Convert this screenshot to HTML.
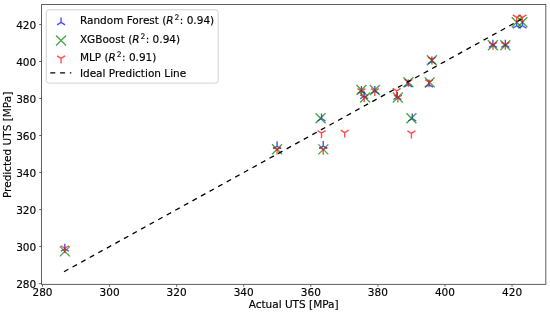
<!DOCTYPE html>
<html><head><meta charset="utf-8"><style>
html,body{margin:0;padding:0;background:#fff;width:550px;height:312px;overflow:hidden}
svg{display:block;filter:blur(0.3px)}
text{stroke:#000;stroke-width:0.15px}
</style></head><body>
<svg width="550" height="312" viewBox="0 0 550 312">
<rect width="550" height="312" fill="#fff"/>
<defs><clipPath id="c"><rect x="41.5" y="4.5" width="504.29999999999995" height="279.9"/></clipPath></defs>
<g clip-path="url(#c)">
<path d="M64.82 248.78V243.78M64.82 248.78L60.82 251.28M64.82 248.78L68.82 251.28" fill="none" stroke="#0000ff" stroke-opacity="0.7" stroke-width="1.4"/>
<path d="M277.06 146.24V141.24M277.06 146.24L273.06 148.74M277.06 146.24L281.06 148.74" fill="none" stroke="#0000ff" stroke-opacity="0.7" stroke-width="1.4"/>
<path d="M321.53 118.47V113.47M321.53 118.47L317.53 120.97M321.53 118.47L325.53 120.97" fill="none" stroke="#0000ff" stroke-opacity="0.7" stroke-width="1.4"/>
<path d="M323.21 146.05V141.05M323.21 146.05L319.21 148.55M323.21 146.05L327.21 148.55" fill="none" stroke="#0000ff" stroke-opacity="0.7" stroke-width="1.4"/>
<path d="M361.45 91.08V86.08M361.45 91.08L357.45 93.58M361.45 91.08L365.45 93.58" fill="none" stroke="#0000ff" stroke-opacity="0.7" stroke-width="1.4"/>
<path d="M364.13 96.26V91.26M364.13 96.26L360.13 98.76M364.13 96.26L368.13 98.76" fill="none" stroke="#0000ff" stroke-opacity="0.7" stroke-width="1.4"/>
<path d="M374.86 91.08V86.08M374.86 91.08L370.86 93.58M374.86 91.08L378.86 93.58" fill="none" stroke="#0000ff" stroke-opacity="0.7" stroke-width="1.4"/>
<path d="M397.33 97.00V92.00M397.33 97.00L393.33 99.50M397.33 97.00L401.33 99.50" fill="none" stroke="#0000ff" stroke-opacity="0.7" stroke-width="1.4"/>
<path d="M408.23 84.41V79.41M408.23 84.41L404.23 86.91M408.23 84.41L412.23 86.91" fill="none" stroke="#0000ff" stroke-opacity="0.7" stroke-width="1.4"/>
<path d="M412.26 118.47V113.47M412.26 118.47L408.26 120.97M412.26 118.47L416.26 120.97" fill="none" stroke="#0000ff" stroke-opacity="0.7" stroke-width="1.4"/>
<path d="M429.03 84.60V79.60M429.03 84.60L425.03 87.10M429.03 84.60L433.03 87.10" fill="none" stroke="#0000ff" stroke-opacity="0.7" stroke-width="1.4"/>
<path d="M431.88 61.46V56.46M431.88 61.46L427.88 63.96M431.88 61.46L435.88 63.96" fill="none" stroke="#0000ff" stroke-opacity="0.7" stroke-width="1.4"/>
<path d="M492.92 44.80V39.80M492.92 44.80L488.92 47.30M492.92 44.80L496.92 47.30" fill="none" stroke="#0000ff" stroke-opacity="0.7" stroke-width="1.4"/>
<path d="M505.33 44.80V39.80M505.33 44.80L501.33 47.30M505.33 44.80L509.33 47.30" fill="none" stroke="#0000ff" stroke-opacity="0.7" stroke-width="1.4"/>
<path d="M516.74 25.74V20.74M516.74 25.74L512.74 28.24M516.74 25.74L520.74 28.24" fill="none" stroke="#0000ff" stroke-opacity="0.7" stroke-width="1.4"/>
<path d="M522.44 25.74V20.74M522.44 25.74L518.44 28.24M522.44 25.74L526.44 28.24" fill="none" stroke="#0000ff" stroke-opacity="0.7" stroke-width="1.4"/>
<path d="M59.82 246.37L69.82 256.37M59.82 256.37L69.82 246.37" fill="none" stroke="#008000" stroke-opacity="0.7" stroke-width="1.4"/>
<path d="M272.06 144.20L282.06 154.20M272.06 154.20L282.06 144.20" fill="none" stroke="#008000" stroke-opacity="0.7" stroke-width="1.4"/>
<path d="M315.53 113.29L325.53 123.29M315.53 123.29L325.53 113.29" fill="none" stroke="#008000" stroke-opacity="0.7" stroke-width="1.4"/>
<path d="M318.38 144.38L328.38 154.38M318.38 154.38L328.38 144.38" fill="none" stroke="#008000" stroke-opacity="0.7" stroke-width="1.4"/>
<path d="M356.45 84.97L366.45 94.97M356.45 94.97L366.45 84.97" fill="none" stroke="#008000" stroke-opacity="0.7" stroke-width="1.4"/>
<path d="M360.13 92.55L370.13 102.55M360.13 102.55L370.13 92.55" fill="none" stroke="#008000" stroke-opacity="0.7" stroke-width="1.4"/>
<path d="M369.86 84.97L379.86 94.97M369.86 94.97L379.86 84.97" fill="none" stroke="#008000" stroke-opacity="0.7" stroke-width="1.4"/>
<path d="M392.84 92.55L402.84 102.55M392.84 102.55L402.84 92.55" fill="none" stroke="#008000" stroke-opacity="0.7" stroke-width="1.4"/>
<path d="M403.40 77.19L413.40 87.19M403.40 87.19L413.40 77.19" fill="none" stroke="#008000" stroke-opacity="0.7" stroke-width="1.4"/>
<path d="M406.42 113.29L416.42 123.29M406.42 123.29L416.42 113.29" fill="none" stroke="#008000" stroke-opacity="0.7" stroke-width="1.4"/>
<path d="M424.70 77.38L434.70 87.38M424.70 87.38L434.70 77.38" fill="none" stroke="#008000" stroke-opacity="0.7" stroke-width="1.4"/>
<path d="M426.88 55.16L436.88 65.16M426.88 65.16L436.88 55.16" fill="none" stroke="#008000" stroke-opacity="0.7" stroke-width="1.4"/>
<path d="M487.92 40.36L497.92 50.36M487.92 50.36L497.92 40.36" fill="none" stroke="#008000" stroke-opacity="0.7" stroke-width="1.4"/>
<path d="M500.33 40.36L510.33 50.36M500.33 50.36L510.33 40.36" fill="none" stroke="#008000" stroke-opacity="0.7" stroke-width="1.4"/>
<path d="M511.74 17.22L521.74 27.22M511.74 27.22L521.74 17.22" fill="none" stroke="#008000" stroke-opacity="0.7" stroke-width="1.4"/>
<path d="M517.44 17.22L527.44 27.22M517.44 27.22L527.44 17.22" fill="none" stroke="#008000" stroke-opacity="0.7" stroke-width="1.4"/>
<path d="M64.82 248.23V253.23M64.82 248.23L60.82 245.73M64.82 248.23L68.82 245.73" fill="none" stroke="#ff0000" stroke-opacity="0.7" stroke-width="1.4"/>
<path d="M277.06 149.57V154.57M277.06 149.57L273.06 147.07M277.06 149.57L281.06 147.07" fill="none" stroke="#ff0000" stroke-opacity="0.7" stroke-width="1.4"/>
<path d="M321.53 133.09V138.09M321.53 133.09L317.53 130.59M321.53 133.09L325.53 130.59" fill="none" stroke="#ff0000" stroke-opacity="0.7" stroke-width="1.4"/>
<path d="M323.21 149.75V154.75M323.21 149.75L319.21 147.25M323.21 149.75L327.21 147.25" fill="none" stroke="#ff0000" stroke-opacity="0.7" stroke-width="1.4"/>
<path d="M344.68 132.54V137.54M344.68 132.54L340.68 130.04M344.68 132.54L348.68 130.04" fill="none" stroke="#ff0000" stroke-opacity="0.7" stroke-width="1.4"/>
<path d="M361.45 91.08V96.08M361.45 91.08L357.45 88.58M361.45 91.08L365.45 88.58" fill="none" stroke="#ff0000" stroke-opacity="0.7" stroke-width="1.4"/>
<path d="M364.13 97.37V102.37M364.13 97.37L360.13 94.87M364.13 97.37L368.13 94.87" fill="none" stroke="#ff0000" stroke-opacity="0.7" stroke-width="1.4"/>
<path d="M374.86 91.08V96.08M374.86 91.08L370.86 88.58M374.86 91.08L378.86 88.58" fill="none" stroke="#ff0000" stroke-opacity="0.7" stroke-width="1.4"/>
<path d="M396.66 90.89V95.89M396.66 90.89L392.66 88.39M396.66 90.89L400.66 88.39" fill="none" stroke="#ff0000" stroke-opacity="0.7" stroke-width="1.4"/>
<path d="M397.84 97.55V102.55M397.84 97.55L393.84 95.05M397.84 97.55L401.84 95.05" fill="none" stroke="#ff0000" stroke-opacity="0.7" stroke-width="1.4"/>
<path d="M408.40 81.82V86.82M408.40 81.82L404.40 79.32M408.40 81.82L412.40 79.32" fill="none" stroke="#ff0000" stroke-opacity="0.7" stroke-width="1.4"/>
<path d="M411.42 133.46V138.46M411.42 133.46L407.42 130.96M411.42 133.46L415.42 130.96" fill="none" stroke="#ff0000" stroke-opacity="0.7" stroke-width="1.4"/>
<path d="M429.03 82.19V87.19M429.03 82.19L425.03 79.69M429.03 82.19L433.03 79.69" fill="none" stroke="#ff0000" stroke-opacity="0.7" stroke-width="1.4"/>
<path d="M431.88 59.61V64.61M431.88 59.61L427.88 57.11M431.88 59.61L435.88 57.11" fill="none" stroke="#ff0000" stroke-opacity="0.7" stroke-width="1.4"/>
<path d="M492.92 44.80V49.80M492.92 44.80L488.92 42.30M492.92 44.80L496.92 42.30" fill="none" stroke="#ff0000" stroke-opacity="0.7" stroke-width="1.4"/>
<path d="M505.33 44.80V49.80M505.33 44.80L501.33 42.30M505.33 44.80L509.33 42.30" fill="none" stroke="#ff0000" stroke-opacity="0.7" stroke-width="1.4"/>
<path d="M516.74 17.41V22.41M516.74 17.41L512.74 14.91M516.74 17.41L520.74 14.91" fill="none" stroke="#ff0000" stroke-opacity="0.7" stroke-width="1.4"/>
<path d="M522.44 17.41V22.41M522.44 17.41L518.44 14.91M522.44 17.41L526.44 14.91" fill="none" stroke="#ff0000" stroke-opacity="0.7" stroke-width="1.4"/>
<path d="M64.01 271.70L521.60 19.16" stroke="#000" stroke-width="1.3" stroke-dasharray="5.0 4.78" stroke-dashoffset="0" fill="none"/>
</g>
<rect x="41.5" y="4.5" width="504.29999999999995" height="279.9" fill="none" stroke="#606060" stroke-width="1.0"/>
<path d="M42.48 284.4V286.7" stroke="#606060" stroke-width="1.0"/>
<text x="42.48" y="296.1" text-anchor="middle" style="font-family:'DejaVu Sans','Liberation Sans',sans-serif;font-size:10.5px">280</text>
<path d="M41.5 283.58H39.2" stroke="#606060" stroke-width="1.0"/>
<text x="36.2" y="287.68" text-anchor="end" style="font-family:'DejaVu Sans','Liberation Sans',sans-serif;font-size:10.5px">280</text>
<path d="M109.56 284.4V286.7" stroke="#606060" stroke-width="1.0"/>
<text x="109.56" y="296.1" text-anchor="middle" style="font-family:'DejaVu Sans','Liberation Sans',sans-serif;font-size:10.5px">300</text>
<path d="M41.5 246.56H39.2" stroke="#606060" stroke-width="1.0"/>
<text x="36.2" y="250.66" text-anchor="end" style="font-family:'DejaVu Sans','Liberation Sans',sans-serif;font-size:10.5px">300</text>
<path d="M176.64 284.4V286.7" stroke="#606060" stroke-width="1.0"/>
<text x="176.64" y="296.1" text-anchor="middle" style="font-family:'DejaVu Sans','Liberation Sans',sans-serif;font-size:10.5px">320</text>
<path d="M41.5 209.54H39.2" stroke="#606060" stroke-width="1.0"/>
<text x="36.2" y="213.64" text-anchor="end" style="font-family:'DejaVu Sans','Liberation Sans',sans-serif;font-size:10.5px">320</text>
<path d="M243.72 284.4V286.7" stroke="#606060" stroke-width="1.0"/>
<text x="243.72" y="296.1" text-anchor="middle" style="font-family:'DejaVu Sans','Liberation Sans',sans-serif;font-size:10.5px">340</text>
<path d="M41.5 172.52H39.2" stroke="#606060" stroke-width="1.0"/>
<text x="36.2" y="176.62" text-anchor="end" style="font-family:'DejaVu Sans','Liberation Sans',sans-serif;font-size:10.5px">340</text>
<path d="M310.80 284.4V286.7" stroke="#606060" stroke-width="1.0"/>
<text x="310.80" y="296.1" text-anchor="middle" style="font-family:'DejaVu Sans','Liberation Sans',sans-serif;font-size:10.5px">360</text>
<path d="M41.5 135.50H39.2" stroke="#606060" stroke-width="1.0"/>
<text x="36.2" y="139.60" text-anchor="end" style="font-family:'DejaVu Sans','Liberation Sans',sans-serif;font-size:10.5px">360</text>
<path d="M377.88 284.4V286.7" stroke="#606060" stroke-width="1.0"/>
<text x="377.88" y="296.1" text-anchor="middle" style="font-family:'DejaVu Sans','Liberation Sans',sans-serif;font-size:10.5px">380</text>
<path d="M41.5 98.48H39.2" stroke="#606060" stroke-width="1.0"/>
<text x="36.2" y="102.58" text-anchor="end" style="font-family:'DejaVu Sans','Liberation Sans',sans-serif;font-size:10.5px">380</text>
<path d="M444.96 284.4V286.7" stroke="#606060" stroke-width="1.0"/>
<text x="444.96" y="296.1" text-anchor="middle" style="font-family:'DejaVu Sans','Liberation Sans',sans-serif;font-size:10.5px">400</text>
<path d="M41.5 61.46H39.2" stroke="#606060" stroke-width="1.0"/>
<text x="36.2" y="65.56" text-anchor="end" style="font-family:'DejaVu Sans','Liberation Sans',sans-serif;font-size:10.5px">400</text>
<path d="M512.04 284.4V286.7" stroke="#606060" stroke-width="1.0"/>
<text x="512.04" y="296.1" text-anchor="middle" style="font-family:'DejaVu Sans','Liberation Sans',sans-serif;font-size:10.5px">420</text>
<path d="M41.5 24.44H39.2" stroke="#606060" stroke-width="1.0"/>
<text x="36.2" y="28.54" text-anchor="end" style="font-family:'DejaVu Sans','Liberation Sans',sans-serif;font-size:10.5px">420</text>
<text x="293.65" y="308.2" text-anchor="middle" style="font-family:'DejaVu Sans','Liberation Sans',sans-serif;font-size:10.5px">Actual UTS [MPa]</text>
<text transform="translate(11.3 144.9) rotate(-90)" text-anchor="middle" style="font-family:'DejaVu Sans','Liberation Sans',sans-serif;font-size:10.5px">Predicted UTS [MPa]</text>
<rect x="46.3" y="9.8" width="171.9" height="73.3" rx="2.6" fill="#fff" fill-opacity="0.8" stroke="#ccc" stroke-width="0.9"/>
<path d="M61.05 22.40V17.40M61.05 22.40L57.05 24.90M61.05 22.40L65.05 24.90" fill="none" stroke="#0000ff" stroke-opacity="0.7" stroke-width="1.4"/>
<path d="M56.05 35.40L66.05 45.40M56.05 45.40L66.05 35.40" fill="none" stroke="#008000" stroke-opacity="0.7" stroke-width="1.4"/>
<path d="M61.05 58.40V63.40M61.05 58.40L57.05 55.90M61.05 58.40L65.05 55.90" fill="none" stroke="#ff0000" stroke-opacity="0.7" stroke-width="1.4"/>
<path d="M50.3 72.95H71.3" stroke="#000" stroke-width="1.3" stroke-dasharray="5.0 4.78" fill="none"/>
<text x="79.9" y="23.65" style="font-family:'DejaVu Sans','Liberation Sans',sans-serif;font-size:10.5px">Random Forest (<tspan style="font-style:italic">R</tspan><tspan dx="0.8" dy="-3.6" style="font-size:7.6px">2</tspan><tspan dx="0.5" dy="3.6">:</tspan><tspan dx="0"> 0.94)</tspan></text>
<text x="79.9" y="42.7" style="font-family:'DejaVu Sans','Liberation Sans',sans-serif;font-size:10.5px">XGBoost (<tspan style="font-style:italic">R</tspan><tspan dx="0.8" dy="-3.6" style="font-size:7.6px">2</tspan><tspan dx="0.5" dy="3.6">:</tspan><tspan dx="0"> 0.94)</tspan></text>
<text x="79.9" y="60.8" style="font-family:'DejaVu Sans','Liberation Sans',sans-serif;font-size:10.5px">MLP (<tspan style="font-style:italic">R</tspan><tspan dx="0.8" dy="-3.6" style="font-size:7.6px">2</tspan><tspan dx="0.5" dy="3.6">:</tspan><tspan dx="0"> 0.91)</tspan></text>
<text x="79.9" y="76.8" style="font-family:'DejaVu Sans','Liberation Sans',sans-serif;font-size:10.5px">Ideal Prediction Line</text>
</svg>
</body></html>
